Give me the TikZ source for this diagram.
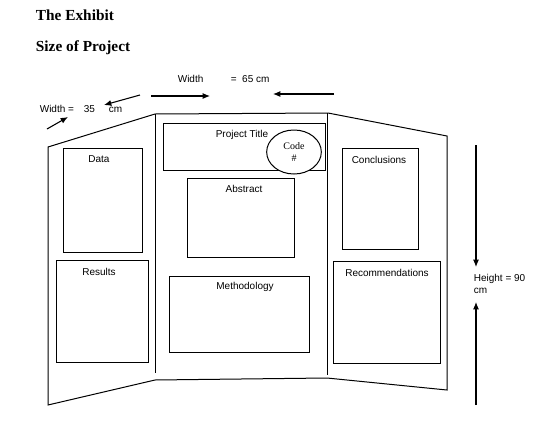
\documentclass[tikz,border=0pt]{standalone}
\usepackage{fontspec}
\setmainfont{Liberation Serif}
\setsansfont{Liberation Sans}
\usetikzlibrary{positioning}
\usetikzlibrary{arrows.meta,shapes.geometric}

\begin{document}
\begin{tikzpicture}[x=0.75pt, y=-0.75pt, line width=0.75pt,
  heading/.style={anchor=west, font=\fontsize{11.5}{13}\selectfont\bfseries},
  boxlabel/.style={font=\sffamily\fontsize{7.5}{9}\selectfont, inner sep=1pt},
  dimtext/.style={font=\sffamily\fontsize{7.5}{9}\selectfont, inner sep=1pt},
  dimarrow/.style={-{Latex[length=5.5pt,width=4.5pt]}, line width=0.8pt},
]
  \useasboundingbox (0,0) rectangle (533,436);

  \node[heading] (exhibit) at (31,15) {The Exhibit};
  \node[heading] (size) at (31,48) {Size of Project};

  % board
  \draw (48,147) -- (155,114) -- (328,113) -- (447,136) -- (447,390)
    -- (327,378) -- (155,380) -- (48,405) -- cycle;
  \draw (155,114) -- (155,373);
  \draw (327,113) -- (327,375);

  % left panel
  \draw (63,148) rectangle (142,252);
  \node[boxlabel] (data) at (99,159) {Data};
  \draw (56,260) rectangle (148,362);
  \node[boxlabel] (results) at (99,272) {Results};

  % centre panel
  \draw (163,123) rectangle (325,170);
  \node[boxlabel] (title) at (242,135) {Project Title};
  \node[ellipse, draw, fill=white, minimum width=41pt, minimum height=33pt, inner sep=0pt,
    align=center, font=\fontsize{7.5}{9}\selectfont] (code) at (294,152) {Code\\\#};
  \draw (187,178) rectangle (294,257);
  \node[boxlabel] (abstract) at (244,189) {Abstract};
  \draw (169,276) rectangle (309,352);
  \node[boxlabel] (method) at (245,287) {Methodology};

  % right panel
  \draw (342,148) rectangle (418,249);
  \node[boxlabel] (concl) at (379,160) {Conclusions};
  \draw (333,261) rectangle (440,363);
  \node[boxlabel] (recomm) at (387,273) {Recommendations};

  % dimensions
  \node[dimtext, anchor=west] (wlong) at (176,79) {Width};
  \node[dimtext, anchor=west] (wlongval) at (229,79) {=\ \ 65 cm};
  \coordinate (w1a) at (151,96);
  \coordinate (w1b) at (210,96);
  \coordinate (w2a) at (334,94);
  \coordinate (w2b) at (273,94);
  \draw[dimarrow] (w1a) -- (w1b);
  \draw[dimarrow] (w2a) -- (w2b);

  \node[dimtext, anchor=west] (wshort) at (38,109) {Width =};
  \node[dimtext, anchor=west] (wshortval) at (82,109) {35};
  \node[dimtext, anchor=west] (wshortcm) at (107,110) {cm};
  \coordinate (d1a) at (140,95);
  \coordinate (d1b) at (104,105);
  \coordinate (d2a) at (47,129);
  \coordinate (d2b) at (68,117);
  \draw[dimarrow] (d1a) -- (d1b);
  \draw[dimarrow] (d2a) -- (d2b);

  \node[dimtext, anchor=north west, align=left] (height) at (472,272) {Height = 90\\cm};
  \coordinate (h1a) at (476,145);
  \coordinate (h1b) at (476,267);
  \coordinate (h2a) at (476,405);
  \coordinate (h2b) at (476,302);
  \draw[dimarrow] (h1a) -- (h1b);
  \draw[dimarrow] (h2a) -- (h2b);
\end{tikzpicture}
\end{document}
